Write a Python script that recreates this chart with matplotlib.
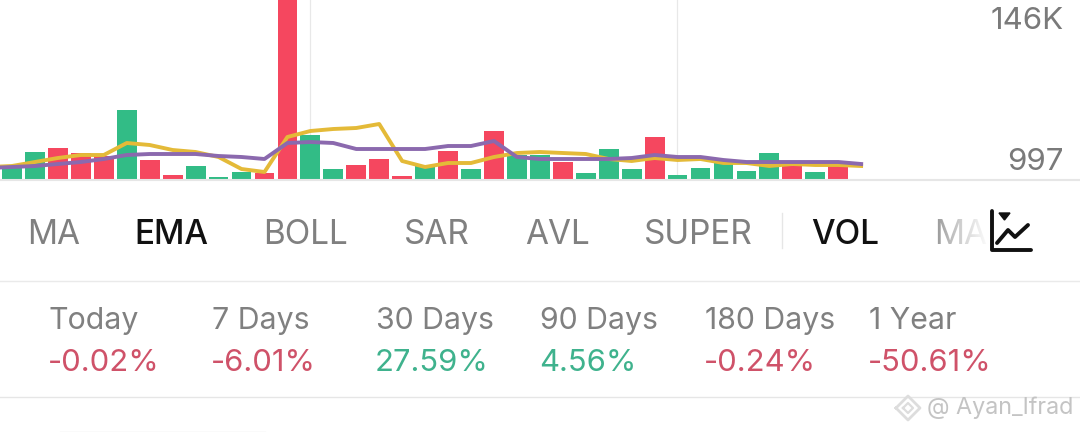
import numpy as np
import matplotlib
matplotlib.use("Agg")
import matplotlib.pyplot as plt

plt.rcParams['font.family'] = ['Inter', 'DejaVu Sans']

RED = '#F5475F'
GREEN = '#32BC86'

# bar heights (chart units, top bar runs off the chart)
vol = [12, 28, 32, 27, 24, 70, 20, 5, 14, 3, 8, 7, 200, 45, 11, 15, 21, 4, 14,
       29, 11, 49, 25, 25, 18, 7, 31, 11, 43, 5, 12, 17, 9, 27, 14, 8, 14]
up = [1, 1, 0, 0, 0, 1, 0, 0, 1, 1, 1, 0, 0, 1, 1, 0, 0, 0, 1,
      0, 1, 0, 1, 1, 0, 1, 1, 1, 0, 1, 1, 1, 1, 1, 0, 1, 0]

# the lines start one step left of the first bar and end one step past the last
line_x = list(range(-1, 38))
ema_yellow = [13, 14, 18, 22, 25, 25, 37, 35, 30, 28, 23, 11, 8, 43, 49, 51, 52, 56, 19, 13,
              17, 17, 23, 27, 28, 27, 26, 21, 19, 22, 20, 21, 17, 17, 14, 16, 15, 15, 14]
ema_purple = [12, 13, 14, 16, 18, 21, 25, 26, 26, 26, 24, 23, 21, 37, 38, 37, 31, 31, 31, 31,
              34, 34, 39, 23, 21, 21, 21, 21, 22, 25, 23, 23, 20, 18, 18, 18, 18, 18, 16]

axis_labels = ['146K', '997']
axis_heights = [159, 18]
grid_lines = [12.98, 28.98]

tabs = ['MA', 'EMA', 'BOLL', 'SAR', 'AVL', 'SUPER', 'VOL']
tab_x = [27, 134, 263, 404, 525, 644, 811]

periods = ['Today', '7 Days', '30 Days', '90 Days', '180 Days', '1 Year']
changes = [-0.02, -6.01, 27.59, 4.56, -0.24, -50.61]
period_x = [49, 212, 376, 540, 705, 869]

W, H = 1080, 432
STEP = 22.95
fig = plt.figure(figsize=(W / 100, H / 100), dpi=100)

# page overlay in pixel coordinates, for everything outside the chart
page = fig.add_axes([0, 0, 1, 1])
page.set_xlim(0, W)
page.set_ylim(H, 0)
page.axis('off')

# chart: first bar centred on x=12, baseline at y=180
ax = fig.add_axes([0, 1 - 180 / H, 1, 180 / H])
ax.patch.set_alpha(0)
ax.set_xlim(-12 / STEP, (W - 12) / STEP)
ax.set_ylim(0, 180)
for s in ax.spines.values():
    s.set_visible(False)
ax.spines['bottom'].set_visible(True)
ax.spines['bottom'].set_color('#E6E6E6')
ax.spines['bottom'].set_linewidth(1.5)
ax.set_xticks([])
ax.set_yticks([])

for g in grid_lines:
    ax.axvline(g, color='#E8E8E8', lw=0.9, zorder=1)

colors = [GREEN if u else RED for u in up]
ax.bar(range(len(vol)), vol, width=19.8 / STEP, color=colors, zorder=2)
ax.plot(line_x, ema_yellow, color='#E4BA38', lw=2.8, zorder=3, solid_joinstyle='round')
ax.plot(line_x, ema_purple, color='#8B69AE', lw=2.8, zorder=4, solid_joinstyle='round')

for lab, h in zip(axis_labels, axis_heights):
    ax.text((1064 - 12) / STEP, h, lab, ha='right', va='center', fontsize=22.5, color='#7A7A7A', zorder=5)

# indicator tabs
for name, x in zip(tabs, tab_x):
    active = name in ('EMA', 'VOL')
    page.text(x, 235, name, ha='left', va='center', fontsize=24,
              color='#111111' if active else '#808080',
              fontweight='medium' if active else 'normal')
page.plot([782, 782], [213, 248], color='#E6E6E6', lw=1)

# cut-off tab, fading out under the icon
page.text(934, 235, 'MA', ha='left', va='center', fontsize=24, color='#808080', zorder=2)
fade = np.zeros((1, 60, 4))
fade[..., :3] = 1
fade[..., 3] = np.linspace(0, 1, 60) ** 0.7
page.imshow(fade, extent=(930, 990, 255, 210), aspect='auto', zorder=3)
page.set_xlim(0, W)
page.set_ylim(H, 0)

# chart icon
page.plot([991.5, 991.5, 1031], [211, 250, 250], color='#111111', lw=2.8, zorder=5,
          solid_joinstyle='round', solid_capstyle='round')
page.plot([997, 1008, 1015, 1028], [243, 230, 237, 225], color='#111111', lw=2.8, zorder=5,
          solid_joinstyle='round', solid_capstyle='round')
page.fill([999, 1010, 1004.5], [213, 213, 220], color='#111111', zorder=5)

# separators
page.plot([0, W], [281, 281], color='#EAEAEA', lw=1)
page.plot([0, W], [397, 397], color='#E6E6E6', lw=1)
page.plot([60, 265], [431.5, 431.5], color='#E6E6E6', lw=1)

# period changes
for name, c, x in zip(periods, changes, period_x):
    page.text(x, 321, name, ha='left', va='center', fontsize=21.8, color='#808080')
    page.text(x - 1, 363, f'{c:.2f}%', ha='left', va='center', fontsize=22.3,
              color='#3FB28D' if c > 0 else '#CF5269')

# watermark
page.text(927, 408, '@ Ayan_Ifrad', ha='left', va='center', fontsize=16.8, color='#C4C4C4', zorder=6)
page.plot([896, 908, 920, 908, 896], [408, 396, 408, 420, 408], color='#DDDDDD', lw=2, zorder=6)
page.plot([903, 908, 913, 908, 903], [408, 403, 408, 413, 408], color='#DDDDDD', lw=1.6, zorder=6)

fig.savefig('out.png', dpi=100)
